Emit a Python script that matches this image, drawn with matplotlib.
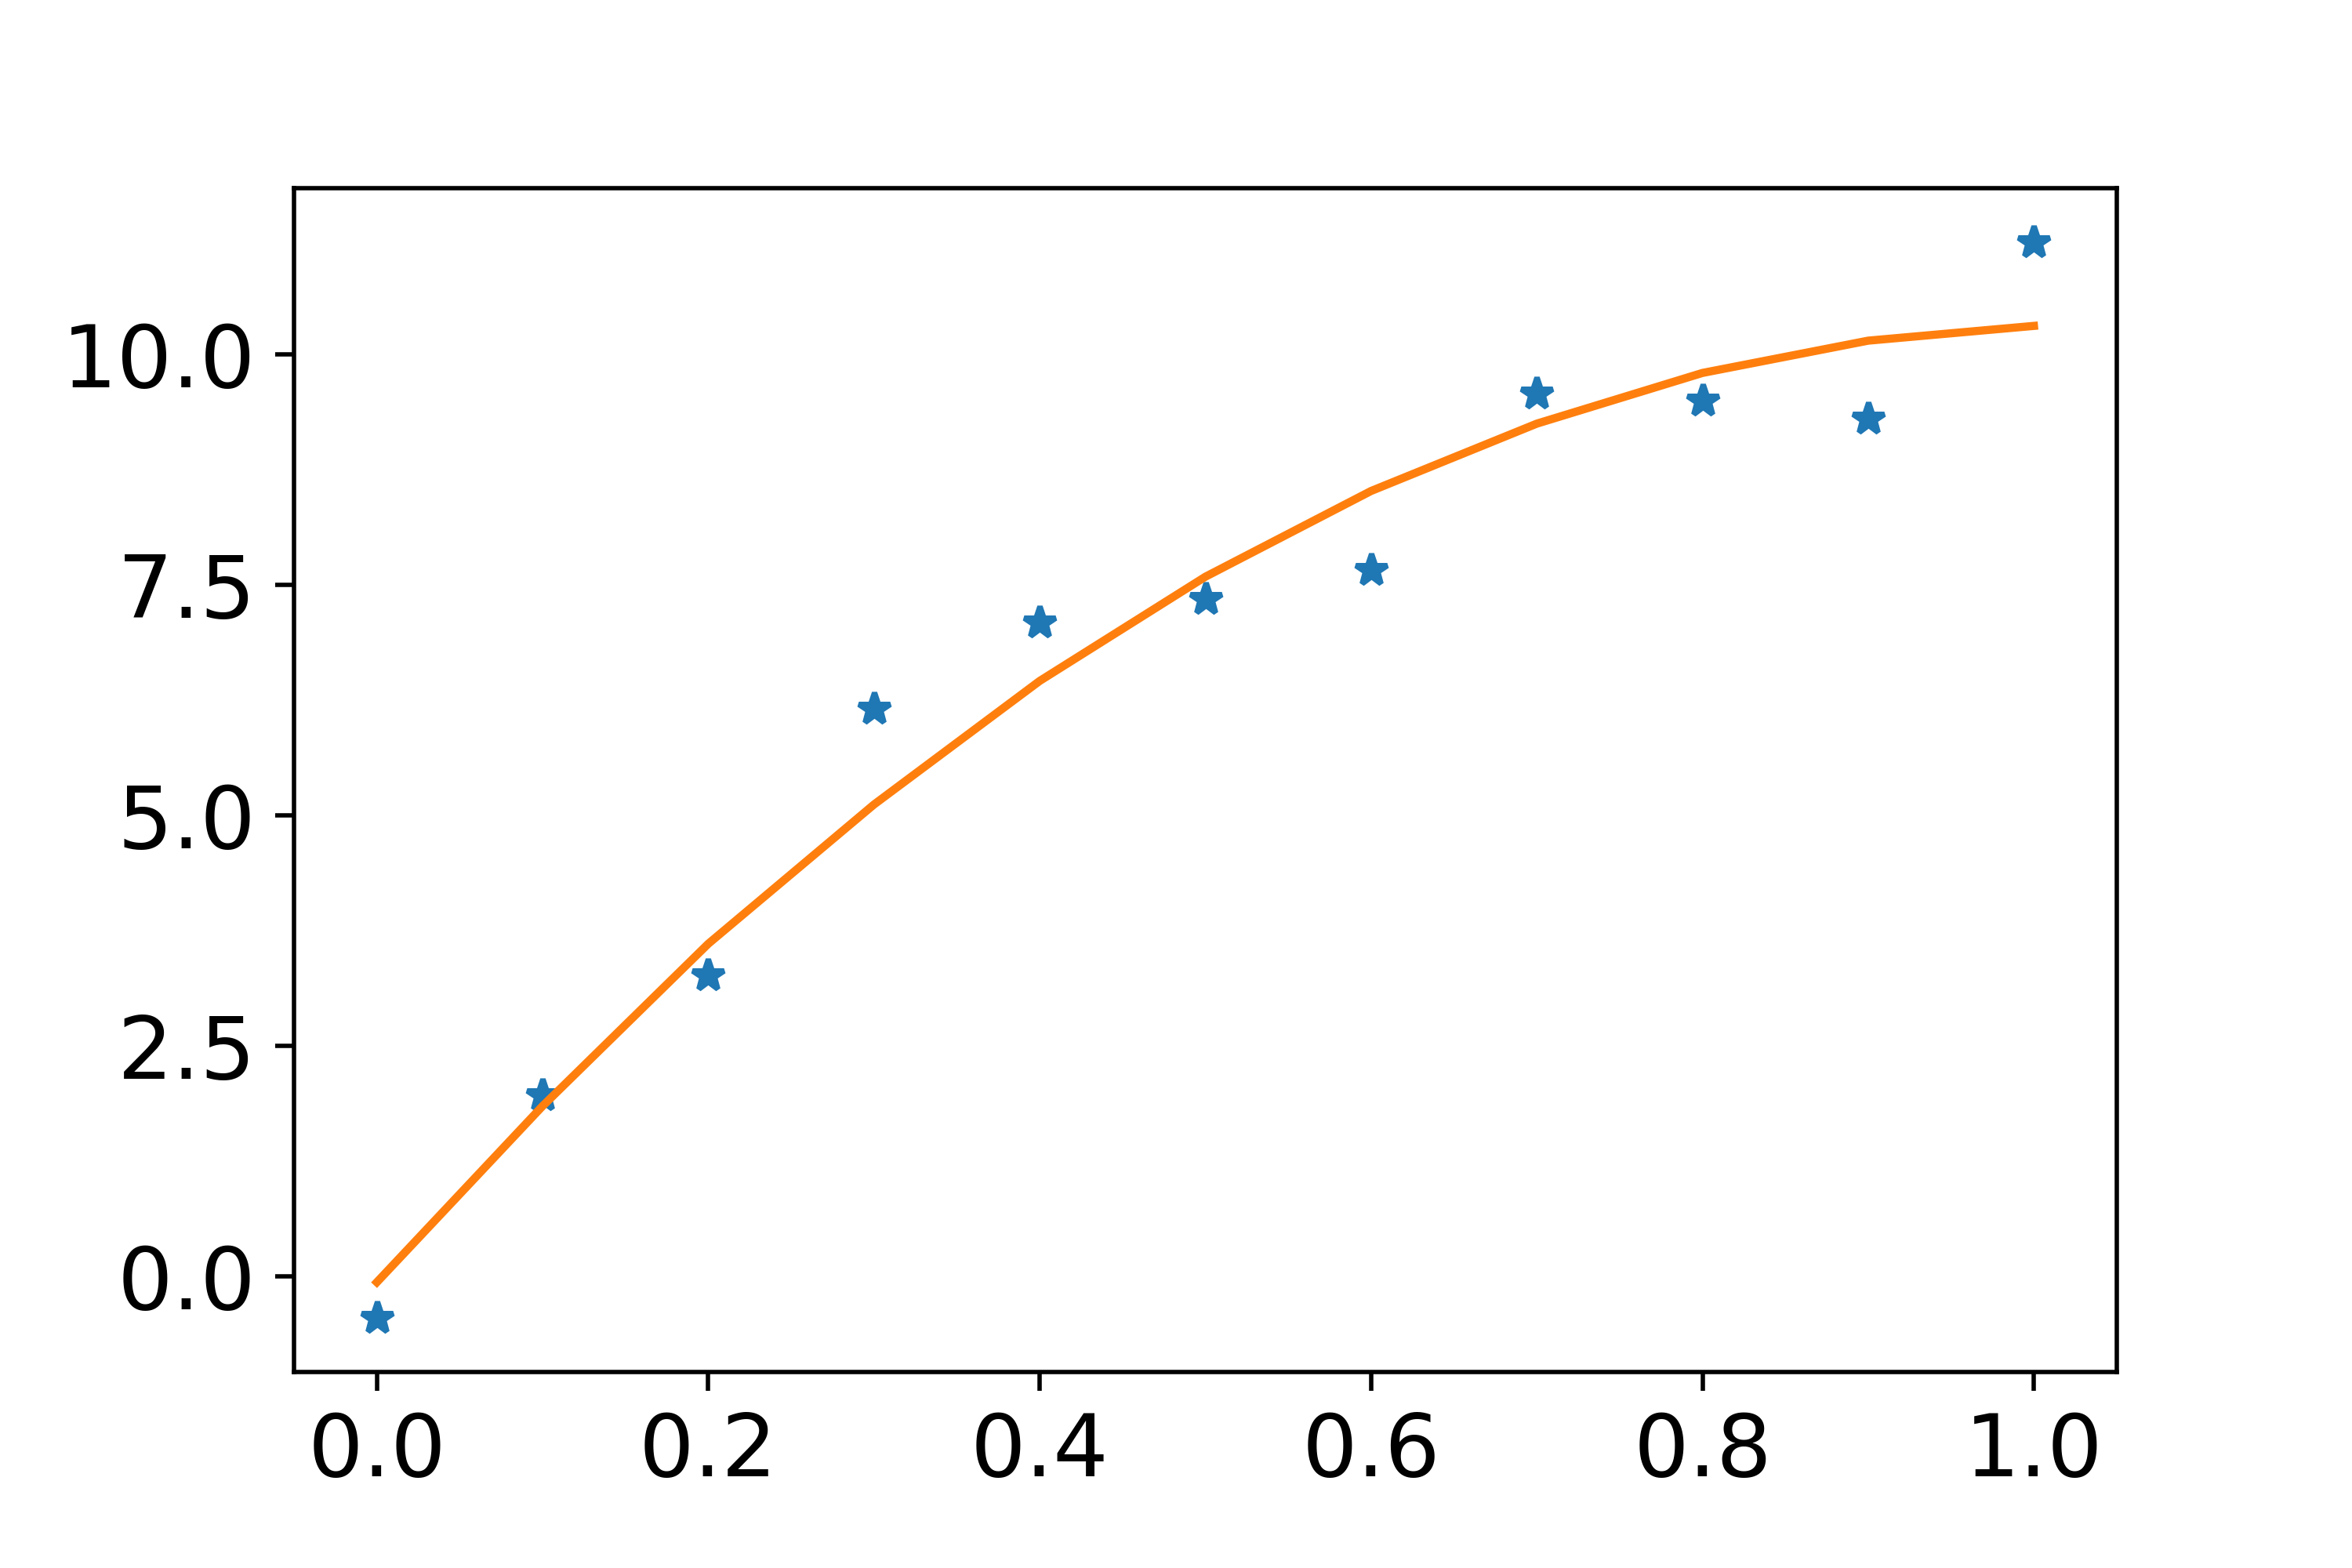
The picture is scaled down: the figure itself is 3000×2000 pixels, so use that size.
import numpy as np
import matplotlib
matplotlib.use("Agg")
import matplotlib.pyplot as plt

x = [0.0, 0.1, 0.2, 0.3, 0.4, 0.5, 0.6, 0.7, 0.8, 0.9, 1.0]
y_points = [-0.45, 1.97, 3.27, 6.16, 7.09, 7.35, 7.66, 9.58, 9.50, 9.30, 11.22]
y_fit = [-0.06, 1.85, 3.61, 5.12, 6.46, 7.59, 8.52, 9.25, 9.80, 10.15, 10.31]

fig, ax = plt.subplots(figsize=(6, 4), dpi=500)
fig.subplots_adjust(bottom=0.125)

ax.plot(x, y_points, '*')
ax.plot(x, y_fit)

ax.tick_params(labelsize=16)

fig.savefig('out.png')
